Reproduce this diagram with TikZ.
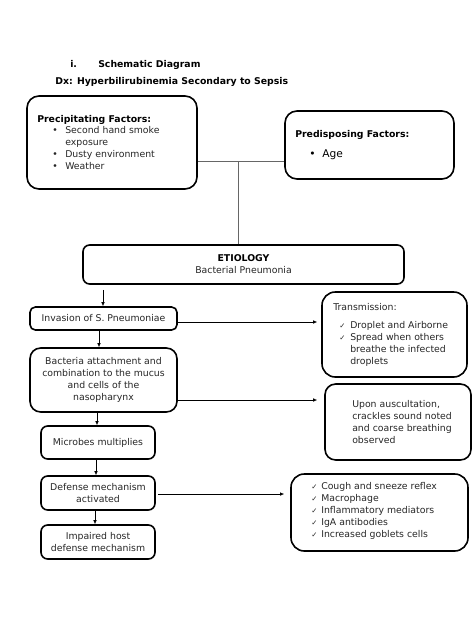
\documentclass[tikz,border=0pt]{standalone}
\usepackage{fontspec}
\setmainfont{DejaVu Sans}
\usetikzlibrary{arrows.meta}
\newcommand{\ck}{{\fontsize{5.5}{9}\selectfont ✓}}
\begin{document}
\begin{tikzpicture}[x=0.75pt,y=-0.75pt,
  box/.style={draw=black,line width=1.2pt,inner sep=0pt,align=center,font=\fontsize{7}{9}\selectfont,text=black!85},
  txt/.style={inner sep=0pt,anchor=base west,font=\fontsize{7}{9}\selectfont,text=black!85},
  btxt/.style={txt,font=\bfseries\fontsize{7}{9}\selectfont,text=black},
  arr/.style={-{Latex[length=3pt,width=2.6pt]},line width=0.45pt},
  link/.style={draw=black!60,line width=0.6pt}]
\useasboundingbox (0,0) rectangle (474,632);
% titles
\node[btxt] (ti) at (70,67) {i.};
\node[btxt] (tt) at (98,67) {Schematic Diagram};
\node[btxt] (dx) at (55,84) {Dx: Hyperbilirubinemia Secondary to Sepsis};
% precipitating
\node[box,rounded corners=9pt,minimum width=127.5pt,minimum height=69.75pt] (prec) at (112,142.5) {};
\node[txt] (prect) at (37,122.5) {\begin{tabular}[t]{@{\hspace{11.25pt}}p{9.75pt}@{}l@{}}\multicolumn{2}{@{}l@{}}{\bfseries\color{black}Precipitating Factors:}\\[-0.75pt] • & Second hand smoke\\ & exposure\\ • & Dusty environment\\ • & Weather\end{tabular}};
% predisposing
\node[box,rounded corners=9pt,minimum width=126.75pt,minimum height=51pt] (pred) at (369.5,145) {};
\node[btxt] (predh) at (295,137.5) {Predisposing Factors:};
\node[txt,font=\fontsize{8}{9}\selectfont,text=black] (preda) at (309,157) {\makebox[9.75pt][l]{•}Age};
% etiology
\node[box,rounded corners=5pt,minimum width=240.75pt,minimum height=29.25pt] (etio) at (243.5,264.5) {{\bfseries\color{black}ETIOLOGY}\\Bacterial Pneumonia};
% left chain
\node[box,rounded corners=4pt,minimum width=110.25pt,minimum height=17.25pt] (inv) at (103.5,318.5) {Invasion of S. Pneumoniae};
\node[box,rounded corners=8pt,minimum width=110.25pt,minimum height=48pt] (bact) at (103.5,380) {Bacteria attachment and\\combination to the mucus\\and cells of the\\nasopharynx};
\node[box,rounded corners=5pt,minimum width=85.5pt,minimum height=24.75pt] (micro) at (98,442.5) {Microbes multiplies};
\node[box,rounded corners=5pt,minimum width=85.5pt,minimum height=25.5pt] (def) at (98,493) {Defense mechanism\\activated};
\node[box,rounded corners=5pt,minimum width=85.5pt,minimum height=25.5pt] (imp) at (98,542) {Impaired host\\defense mechanism};
% right boxes
\node[box,rounded corners=10pt,minimum width=108.75pt,minimum height=63.75pt] (trans) at (394.5,334.5) {};
\node[txt] (transh) at (333,310.5) {Transmission:};
\node[txt] (transl) at (339,328.5) {\begin{tabular}[t]{@{}p{8.25pt}@{}l@{}}\ck & Droplet and Airborne\\ \ck & Spread when others\\ & breathe the infected\\ & droplets\end{tabular}};
\node[box,rounded corners=8pt,minimum width=109.5pt,minimum height=57pt] (ausc) at (398,422) {};
\node[txt] (ausct) at (352,407.5) {\begin{tabular}[t]{@{}l@{}}Upon auscultation,\\crackles sound noted\\and coarse breathing\\observed\end{tabular}};
\node[box,rounded corners=10pt,minimum width=132.75pt,minimum height=57.75pt] (cough) at (379.5,512.5) {};
\node[txt] (cought) at (311,489.5) {\begin{tabular}[t]{@{}p{7.5pt}@{}l@{}}\ck & Cough and sneeze reflex\\ \ck & Macrophage\\ \ck & Inflammatory mediators\\ \ck & IgA antibodies\\ \ck & Increased goblets cells\end{tabular}};
% connectors
\coordinate (J) at (238,161);
\draw[link] (prec.east |- J) -- (pred.west |- J);
\draw[link] (J) -- (J |- etio.north);
\draw[arr,shorten <=3.75pt] (etio.south -| 103,0) -- (inv.north -| 103,0);
\draw[arr] (inv.east |- 0,322) -- ([xshift=-3pt]trans.west |- 0,322);
\draw[arr] (inv.south -| 99,0) -- (bact.north -| 99,0);
\draw[arr] (bact.east |- 0,400) -- ([xshift=-5.25pt]ausc.west |- 0,400);
\draw[arr] (bact.south -| 97,0) -- (micro.north -| 97,0);
\draw[arr] (micro.south -| 96,0) -- (def.north -| 96,0);
\draw[arr,shorten <=1.5pt] (def.east |- 0,494) -- ([xshift=-4.5pt]cough.west |- 0,494);
\draw[arr] (def.south -| 95,0) -- (imp.north -| 95,0);
\end{tikzpicture}
\end{document}
